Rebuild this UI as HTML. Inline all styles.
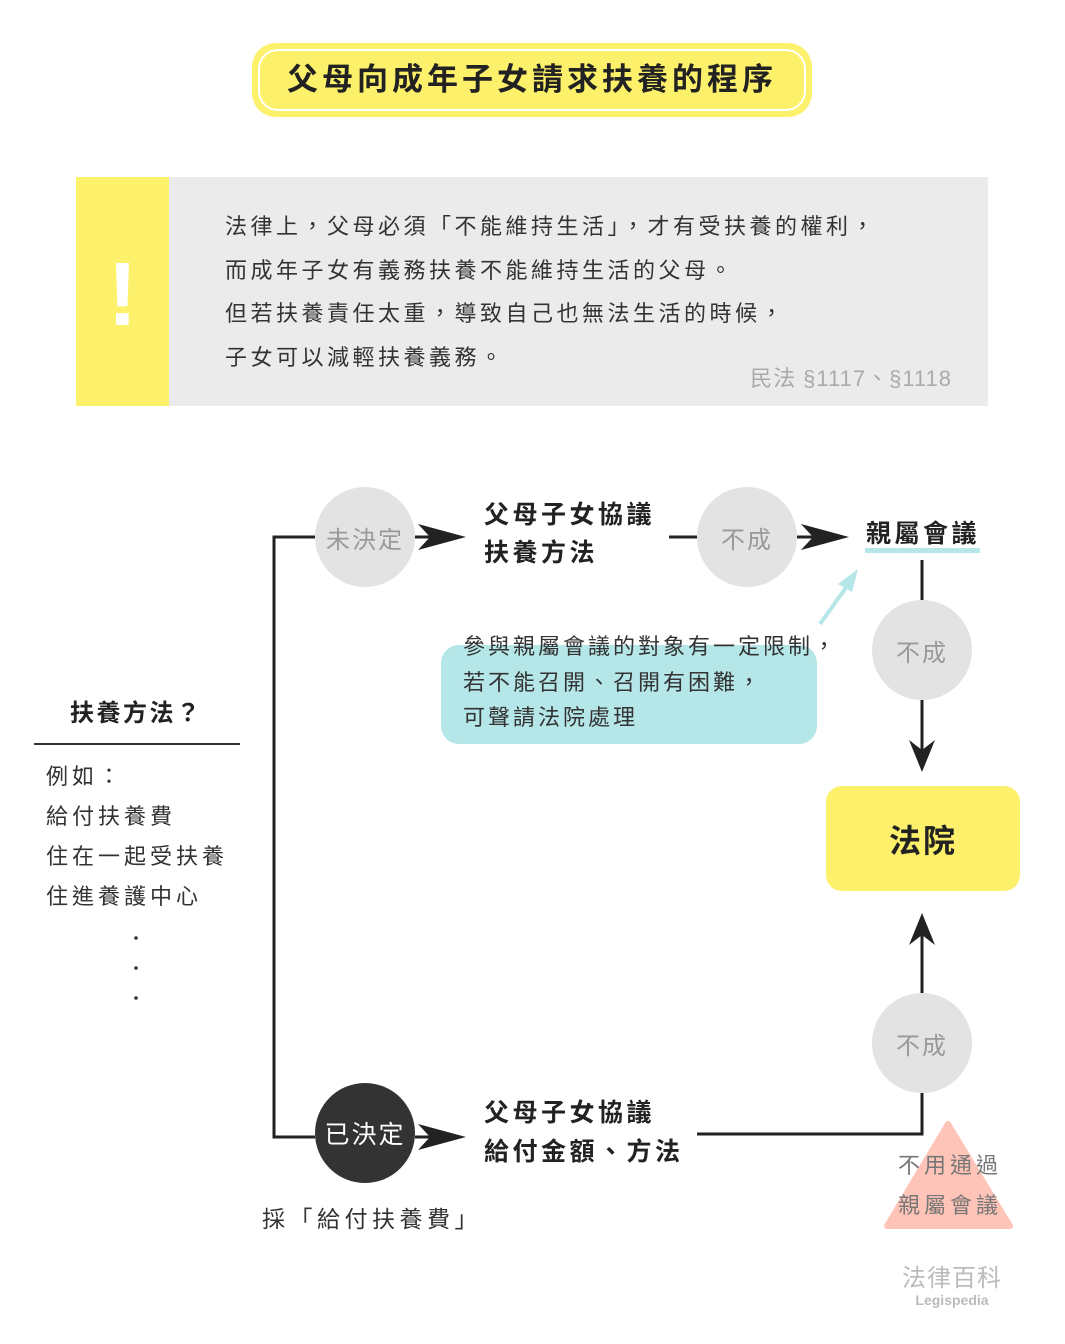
<!DOCTYPE html>
<html><head><meta charset="utf-8"><style>
body{margin:0;width:1065px;height:1344px;background:#fff;position:relative;overflow:hidden;font-family:"Liberation Sans","Noto Sans CJK TC",sans-serif;color:#222}
.a{position:absolute;white-space:nowrap}
.c{position:absolute;border-radius:50%;background:#e3e3e3;color:#999;font-size:24px;letter-spacing:2px;display:flex;align-items:center;justify-content:center;width:100px;height:100px}
</style></head><body>
<div class="a" style="left:252px;top:43px;width:560px;height:74px;background:#fdf06a;border-radius:24px"></div>
<div class="a" style="left:258px;top:49px;width:544px;height:58px;border:2px solid #fff;border-radius:20px"></div>
<div class="a" style="left:252px;top:60px;width:560px;text-align:center;font-size:31px;font-weight:bold;letter-spacing:4px;line-height:40px">父母向成年子女請求扶養的程序</div>

<div class="a" style="left:76px;top:177px;width:912px;height:229px;background:#ebebeb"></div>
<div class="a" style="left:76px;top:177px;width:93px;height:229px;background:#fdf06a"></div>
<div class="a" style="left:76px;top:240px;width:93px;text-align:center;color:#fff;font-size:90px;font-weight:bold;line-height:110px">!</div>
<div class="a" style="left:225px;top:205px;font-size:22px;line-height:43.5px;letter-spacing:3.5px;color:#333">法律上，父母必須「不能維持生活」，才有受扶養的權利，<br>而成年子女有義務扶養不能維持生活的父母。<br>但若扶養責任太重，導致自己也無法生活的時候，<br>子女可以減輕扶養義務。</div>
<div class="a" style="right:113px;top:361px;font-size:22px;color:#aaa;letter-spacing:1px">民法 §1117、§1118</div>

<svg class="a" style="left:0;top:0" width="1065" height="1344">
<g stroke="#222" stroke-width="3" fill="none">
<polyline points="315,537 274,537 274,1137 315,1137"/>
<line x1="415" y1="537" x2="450" y2="537"/>
<line x1="669" y1="537" x2="697" y2="537"/>
<line x1="797" y1="537" x2="835" y2="537"/>
<line x1="922" y1="560" x2="922" y2="600"/>
<line x1="922" y1="700" x2="922" y2="755"/>
<line x1="922" y1="993" x2="922" y2="930"/>
<polyline points="697,1134 922,1134 922,1093"/>
<line x1="415" y1="1137" x2="450" y2="1137"/>
</g>
<g fill="#222">
<polygon points="466,537 418,524 430,537 418,550"/>
<polygon points="849,537 801,524 813,537 801,550"/>
<polygon points="922,772 909,740 922,750 935,740"/>
<polygon points="922,913 909,945 922,935 935,945"/>
<polygon points="466,1137 418,1124 430,1137 418,1150"/>
</g>
<line x1="820" y1="624" x2="850" y2="582" stroke="#b5e6e8" stroke-width="4"/>
<polygon points="858,569 838,584 852,592" fill="#b5e6e8"/>
<path d="M948,1124 L1010,1226 L887,1226 Z" fill="#ffc4b8" stroke="#ffc4b8" stroke-width="6" stroke-linejoin="round"/>
<line x1="34" y1="744" x2="240" y2="744" stroke="#333" stroke-width="2"/>
<circle cx="136" cy="938" r="1.8" fill="#333"/>
<circle cx="136" cy="968" r="1.8" fill="#333"/>
<circle cx="136" cy="998" r="1.8" fill="#333"/>
</svg>

<div class="c" style="left:315px;top:487px">未決定</div>
<div class="c" style="left:697px;top:487px">不成</div>
<div class="c" style="left:872px;top:600px">不成</div>
<div class="c" style="left:872px;top:993px">不成</div>
<div class="c" style="left:315px;top:1083px;background:#333;color:#fff;font-size:25px">已決定</div>

<div class="a" style="left:484px;top:496px;font-size:25px;line-height:38px;font-weight:bold;letter-spacing:3.5px">父母子女協議<br>扶養方法</div>
<div class="a" style="left:866px;top:514px;font-size:25px;font-weight:bold;letter-spacing:3.5px">親屬會議</div>
<div class="a" style="left:865px;top:548px;width:115px;height:5px;background:#b5e6e8"></div>

<div class="a" style="left:441px;top:645px;width:376px;height:99px;background:#b5e6e8;border-radius:18px"></div>
<div class="a" style="left:463px;top:629px;font-size:22px;line-height:35.5px;letter-spacing:3px;color:#333">參與親屬會議的對象有一定限制，<br>若不能召開、召開有困難，<br>可聲請法院處理</div>

<div class="a" style="left:826px;top:786px;width:194px;height:105px;background:#fdf06a;border-radius:16px;font-size:32px;font-weight:bold;display:flex;align-items:center;justify-content:center;letter-spacing:2px">法院</div>

<div class="a" style="left:70px;top:693px;font-size:24px;font-weight:bold;letter-spacing:2.5px">扶養方法？</div>
<div class="a" style="left:46px;top:757px;font-size:22px;line-height:40px;letter-spacing:4px;color:#333">例如：<br>給付扶養費<br>住在一起受扶養<br>住進養護中心</div>

<div class="a" style="left:484px;top:1094px;font-size:25px;line-height:39px;font-weight:bold;letter-spacing:3.5px">父母子女協議<br>給付金額、方法</div>
<div class="a" style="left:262px;top:1200px;font-size:23px;letter-spacing:4.5px;color:#333">採「給付扶養費」</div>

<div class="a" style="left:880px;top:1146px;width:140px;text-align:center;font-size:22px;line-height:40px;color:#777;letter-spacing:4px">不用通過<br>親屬會議</div>
<div class="a" style="left:892px;top:1258px;width:120px;text-align:center;font-size:24px;color:#bbb;letter-spacing:1px">法律百科</div>
<div class="a" style="left:892px;top:1292px;width:120px;text-align:center;font-size:14px;font-weight:bold;color:#bbb">Legispedia</div>
</body></html>
